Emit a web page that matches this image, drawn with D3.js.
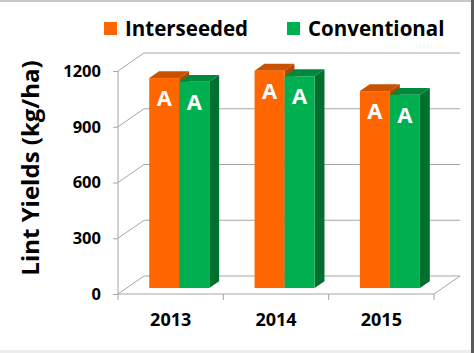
<!DOCTYPE html>
<html>
<head>
<meta charset="utf-8">
<script src="https://cdn.jsdelivr.net/npm/d3@7"></script>
<style>
body { margin: 0; background: #fff; }
text { font-family: "Open Sans", "Noto Sans", sans-serif; font-weight: bold; }
</style>
</head>
<body>
<svg id="svg"></svg>
<script>
var width = 474, height = 353;

// data
var years = ["2013", "2014", "2015"];
var series = ["Interseeded", "Conventional"];
var interseeded = [1130, 1170, 1060];
var conventional = [1110, 1140, 1040];
var letters = [["A", "A"], ["A", "A"], ["A", "A"]];
var yTicks = [0, 300, 600, 900, 1200];

var values = [interseeded, conventional];
var colors = {
	front: ["#FF6600", "#00B050"],
	top: ["#C85200", "#00893D"],
	side: ["#B34700", "#00702F"]
};

var svg = d3.select("#svg")
	.attr("width", width)
	.attr("height", height);

// depth of the 3d box
var DX = 26, DY = -18;
var z0 = 0.33, z1 = 0.71;

var x0 = d3.scaleBand()
	.domain(years)
	.range([118, 434]);
var groupW = x0.bandwidth() * 0.57;
var x1 = d3.scaleBand()
	.domain(series)
	.range([0, groupW]);

var y = d3.scaleLinear()
	.domain([0, 1200])
	.range([294, 71]);

function p(x, v, z) {
	return [x + z * DX, y(v) + z * DY];
}

// frame
svg.append("rect").attr("x", 0).attr("y", 0).attr("width", width).attr("height", 2).attr("fill", "#C8C8C8");
svg.append("rect").attr("x", 0).attr("y", height - 3).attr("width", width).attr("height", 3).attr("fill", "#EDEDED");
svg.append("rect").attr("x", width - 3).attr("y", 0).attr("width", 3).attr("height", height).attr("fill", "#5A5A5A");

var grid = svg.append("g")
	.attr("stroke", "#A6A6A6")
	.attr("stroke-width", 1)
	.attr("fill", "none");

var xL = x0.range()[0], xR = x0.range()[1];

// back wall gridlines and diagonals
yTicks.forEach(function(v) {
	var a = p(xL, v, 0), b = p(xL, v, 1), c = p(xR, v, 1);
	grid.append("path").attr("d", "M" + a + "L" + b + "L" + c);
});
// floor
grid.append("path").attr("d", "M" + p(xL, 0, 0) + "L" + p(xR, 0, 0) + "L" + p(xR, 0, 1));
// front vertical axis
grid.append("path").attr("d", "M" + p(xL, 0, 0) + "L" + p(xL, 1200, 0));
// x ticks at band edges
years.concat([null]).forEach(function(d, i) {
	var xx = d ? x0(d) : xR;
	grid.append("path").attr("d", "M" + xx + "," + y(0) + "V" + (y(0) + 6));
});

// y axis
var yAxis = d3.axisLeft(y)
	.tickValues(yTicks)
	.tickSize(5)
	.tickPadding(12)
	.tickFormat(d3.format("d"));
var ya = svg.append("g")
	.attr("transform", "translate(" + xL + ",0)")
	.call(yAxis);
ya.select(".domain").remove();
ya.selectAll("line").attr("stroke", "#A6A6A6");
ya.selectAll("text")
	.attr("fill", "#000")
	.style("font-size", "16.5px")
	.style("font-family", "'Open Sans', sans-serif")
	.style("font-weight", "bold");

// x axis
var xAxis = d3.axisBottom(x0).tickSize(0).tickPadding(19);
var xa = svg.append("g")
	.attr("transform", "translate(0," + y(0) + ")")
	.call(xAxis);
xa.select(".domain").remove();
xa.selectAll("text")
	.attr("fill", "#000")
	.style("font-size", "18px")
	.style("font-family", "'Open Sans', sans-serif")
	.style("font-weight", "bold");

// bars, left series first so the right one hides its side
var bars = svg.append("g");
years.forEach(function(yr, i) {
	var gx = x0(yr) + (x0.bandwidth() - groupW) / 2;
	series.forEach(function(sn, s) {
		var v = values[s][i];
		var xa0 = gx + x1(sn), xa1 = xa0 + x1.bandwidth();
		var g = bars.append("g");
		// side
		g.append("path")
			.attr("d", "M" + p(xa1, 0, z0) + "L" + p(xa1, 0, z1) + "L" + p(xa1, v, z1) + "L" + p(xa1, v, z0) + "Z")
			.attr("fill", colors.side[s]);
		// top
		g.append("path")
			.attr("d", "M" + p(xa0, v, z0) + "L" + p(xa0, v, z1) + "L" + p(xa1, v, z1) + "L" + p(xa1, v, z0) + "Z")
			.attr("fill", colors.top[s]);
		// front
		var f0 = p(xa0, v, z0), f1 = p(xa1, 0, z0);
		g.append("rect")
			.attr("x", f0[0])
			.attr("y", f0[1])
			.attr("width", f1[0] - f0[0])
			.attr("height", f1[1] - f0[1])
			.attr("fill", colors.front[s]);
		g.append("text")
			.attr("x", (f0[0] + f1[0]) / 2)
			.attr("y", f0[1] + 28)
			.attr("text-anchor", "middle")
			.attr("fill", "#fff")
			.style("font-size", "22px")
			.text(letters[i][s]);
	});
});

// y title
svg.append("text")
	.attr("transform", "translate(39,168) rotate(-90)")
	.attr("text-anchor", "middle")
	.style("font-size", "24px")
	.text("Lint Yields (kg/ha)");

// legend
var legX = [104, 287];
series.forEach(function(s, i) {
	svg.append("rect")
		.attr("x", legX[i]).attr("y", 22)
		.attr("width", 13).attr("height", 13)
		.attr("fill", colors.front[i]);
	svg.append("text")
		.attr("x", legX[i] + 21).attr("y", 36)
		.style("font-size", "20.5px")
		.text(s);
});
</script>
</body>
</html>
